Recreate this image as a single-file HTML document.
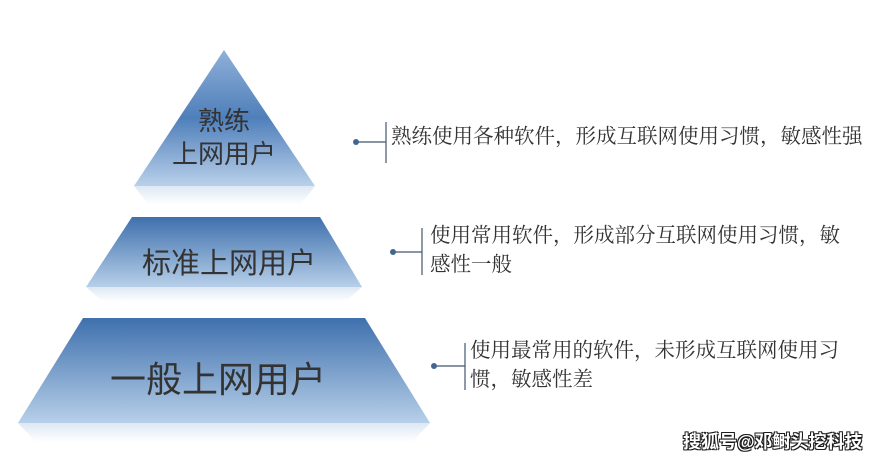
<!DOCTYPE html>
<html><head><meta charset="utf-8"><style>
body{margin:0;width:874px;height:459px;background:#fff;overflow:hidden;position:relative;font-family:"Liberation Sans","Noto Sans CJK SC",sans-serif}
.t{position:absolute;color:#333;font-family:"Liberation Serif","Noto Serif CJK SC",serif;font-size:20.5px;white-space:nowrap;line-height:29px}
.wm{position:absolute;left:683px;top:428px;font-size:18px;font-weight:bold;color:#fff;text-shadow:0 0 1px #000,1px 1px 0 #222,-1px -1px 0 #222,1px -1px 0 #222,-1px 1px 0 #222;letter-spacing:0px}
</style></head><body>
<svg width="874" height="459" style="position:absolute;left:0;top:0">
<defs>
<linearGradient id="g" x1="0" y1="0" x2="0" y2="1">
<stop offset="0" stop-color="#3f70ad"/><stop offset="1" stop-color="#b7cfe9"/></linearGradient>
<linearGradient id="g1" x1="0" y1="0" x2="0" y2="1">
<stop offset="0" stop-color="#8fb0d8"/><stop offset="0.5" stop-color="#4f7fba"/><stop offset="1" stop-color="#b9d0ea"/></linearGradient>
<linearGradient id="r" x1="0" y1="0" x2="0" y2="1">
<stop offset="0" stop-color="#dde8f4"/><stop offset="1" stop-color="#ffffff"/></linearGradient>
</defs>
<polygon points="134,186 315,186 300,205 149,205" fill="url(#r)"/>
<polygon points="224,50 315,186 134,186" fill="url(#g1)"/>
<polygon points="86,287 362,287 345,302 103,302" fill="url(#r)"/>
<polygon points="132,217 320,217 362,287 86,287" fill="url(#g)"/>
<polygon points="18,423 430,423 412,442 36,442" fill="url(#r)"/>
<polygon points="83,318 365,318 430,423 18,423" fill="url(#g)"/>
<g fill="none" stroke="#44566e" stroke-width="1.2">
<line x1="356" y1="142" x2="386" y2="142"/><line x1="386" y1="122" x2="386" y2="163"/>
<line x1="393" y1="252" x2="422" y2="252"/><line x1="422" y1="228" x2="422" y2="275"/>
<line x1="434" y1="366" x2="465" y2="366"/><line x1="465" y1="343" x2="465" y2="390"/>
</g>
<g fill="#44668e"><circle cx="356" cy="142" r="3"/><circle cx="393" cy="252" r="3"/><circle cx="434" cy="366" r="3"/></g>
<g font-family="Liberation Sans, Noto Sans CJK SC, sans-serif" fill="#333" text-anchor="middle">
<text x="224" y="130" font-size="26">熟练</text>
<text x="224" y="163" font-size="26">上网用户</text>
<text x="229" y="273" font-size="29">标准上网用户</text>
<text x="218" y="392" font-size="36">一般上网用户</text>
</g>
</svg>
<div class="t" style="left:391px;top:123px">熟练使用各种软件，形成互联网使用习惯，敏感性强</div>
<div class="t" style="left:430px;top:222px">使用常用软件，形成部分互联网使用习惯，敏<br>感性一般</div>
<div class="t" style="left:470px;top:337px">使用最常用的软件，未形成互联网使用习<br>惯，敏感性差</div>
<div class="wm">搜狐号@邓鲥头挖科技</div>
</body></html>
